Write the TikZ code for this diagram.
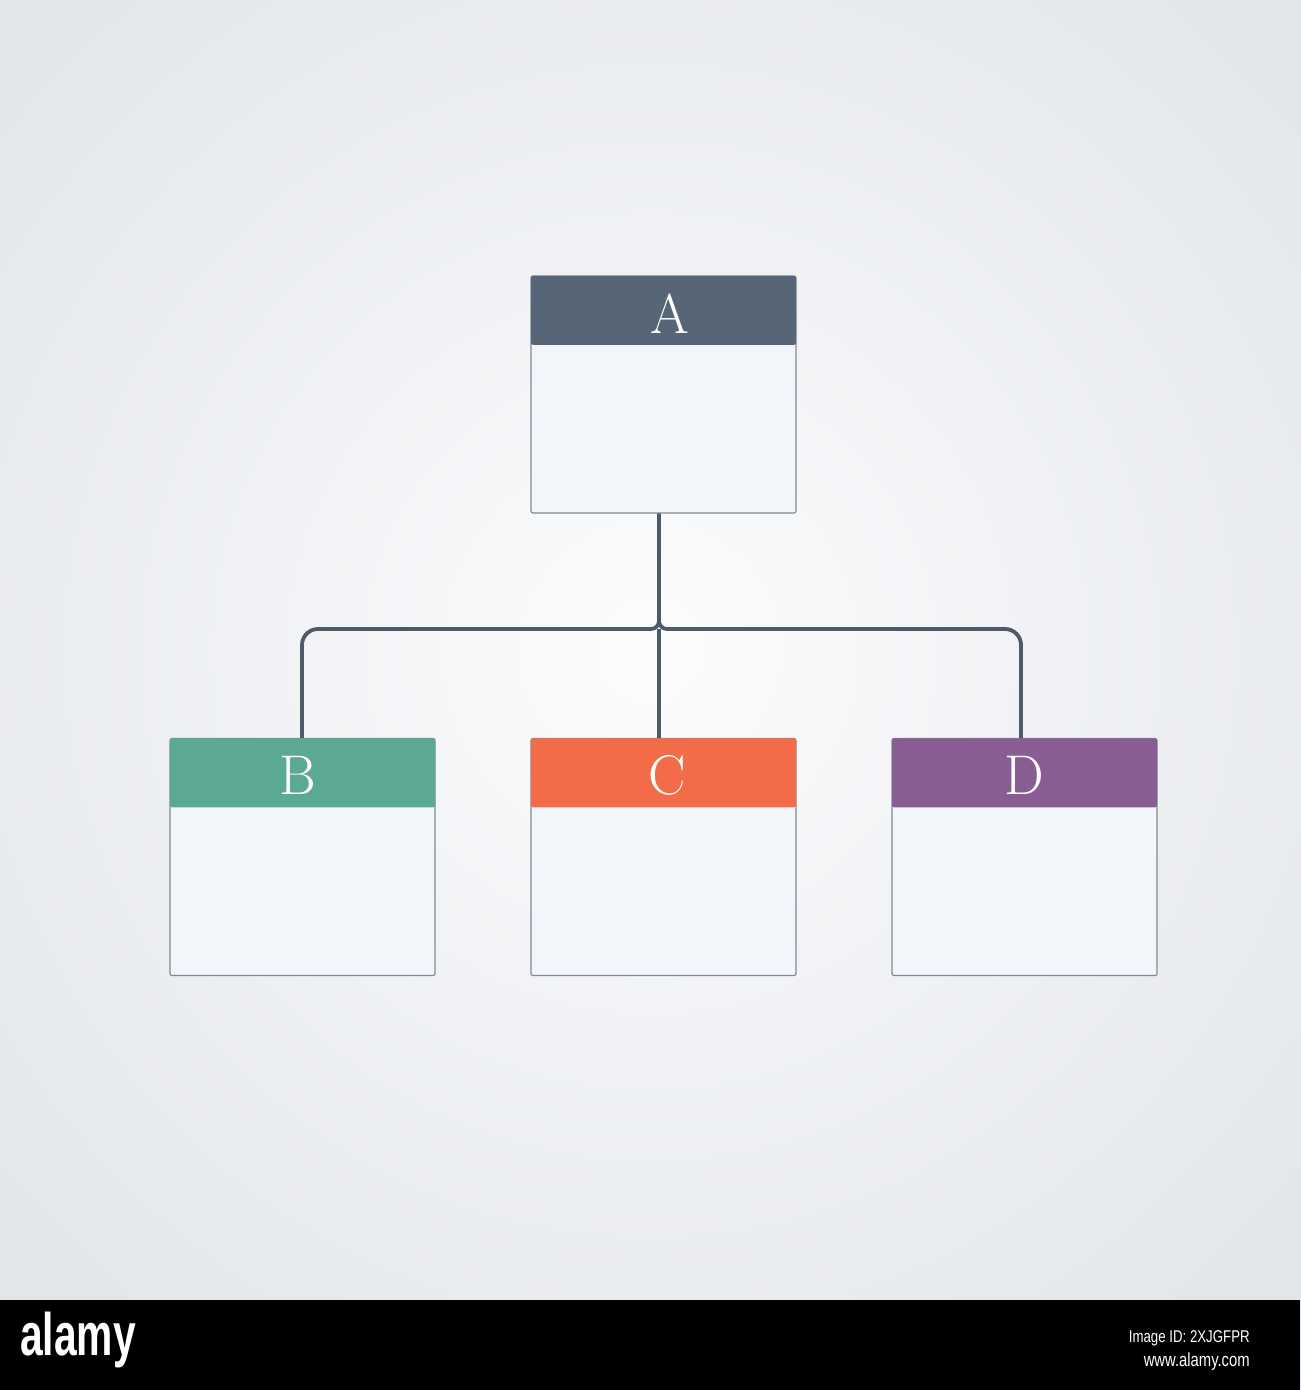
\documentclass[tikz,border=0pt]{standalone}
\usepackage{fontspec}
\newfontfamily\bandfont{Liberation Sans}
\definecolor{bgout}{HTML}{E3E6EB}
\definecolor{bgin}{HTML}{FBFCFD}
\definecolor{headA}{HTML}{566676}
\definecolor{headB}{HTML}{5BA893}
\definecolor{headC}{HTML}{F26C4A}
\definecolor{headD}{HTML}{885D94}
\definecolor{bodyfill}{HTML}{F2F5FA}
\definecolor{boxline}{HTML}{7F8A96}
\definecolor{connline}{HTML}{4E5A68}
\tikzset{
  box/.style={draw=boxline, line width=0.6pt, fill=bodyfill, rectangle, rounded corners=1pt,
    minimum width=132.5pt, minimum height=118.5pt, inner sep=0pt},
  head/.style={rectangle, rounded corners=1pt, minimum width=132.5pt, minimum height=34.5pt,
    inner sep=0pt, anchor=north},
  letter/.style={text=white, inner sep=0pt, font=\fontsize{28}{28}\selectfont},
  conn/.style={draw=connline, line width=1.9pt}
}
\begin{document}
\begin{tikzpicture}[x=0.5pt,y=-0.5pt]
\useasboundingbox (0,0) rectangle (1300,1390);
\shade[inner color=bgin, outer color=bgout] (-200,-200) rectangle (1500,1500);
% boxes
\node[box] (A) at (663.5,394.5) {};
\node[head, fill=headA] (Ah) at (A.north) {};
\node[letter] (At) at ([xshift=3pt,yshift=-1.5pt]Ah.center) {A};
\node[box] (B) at (302.5,857) {};
\node[head, fill=headB] (Bh) at (B.north) {};
\node[letter] (Bt) at ([xshift=-2.5pt,yshift=-1.5pt]Bh.center) {B};
\node[box] (C) at (663.5,857) {};
\node[head, fill=headC] (Ch) at (C.north) {};
\node[letter] (Ct) at ([xshift=2pt,yshift=-1.5pt]Ch.center) {C};
\node[box] (D) at (1024.5,857) {};
\node[head, fill=headD] (Dh) at (D.north) {};
\node[letter] (Dt) at ([yshift=-1.5pt]Dh.center) {D};
% connectors
\coordinate (J) at (659,629);
\coordinate (HB) at (302,629);
\coordinate (HD) at (1021,629);
\draw[conn] ([xshift=-2.25pt]A.south) [rounded corners=4pt] -- (J) [rounded corners=8pt] -- (HB) -- (HB |- Bh.north);
\draw[conn] ([xshift=-2.25pt]A.south) [rounded corners=4pt] -- (J) [rounded corners=8pt] -- (HD) -- (HD |- Dh.north);
\draw[conn] (J) -- (J |- Ch.north);
% bottom band
\fill[black] (0,1300) rectangle (1300,1390);
\node[anchor=west, text=white, font=\bandfont\bfseries\fontsize{30}{30}\selectfont, xscale=0.68, inner sep=0pt] (logo) at (20,1340) {alamy};
\node[anchor=east, text=white, font=\bandfont\fontsize{8.5}{8.5}\selectfont, xscale=0.78, inner sep=0pt] (imgid) at (1250,1338) {Image ID: 2XJGFPR};
\node[anchor=east, text=white, font=\bandfont\fontsize{9.5}{9.5}\selectfont, xscale=0.78, inner sep=0pt] (url) at (1250,1362) {www.alamy.com};
\end{tikzpicture}
\end{document}
